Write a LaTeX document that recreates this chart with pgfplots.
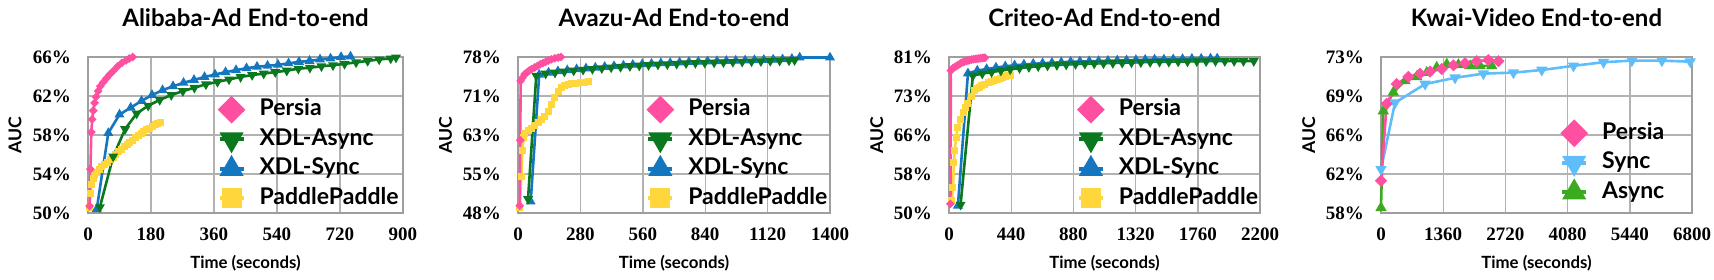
\documentclass[border=0pt]{standalone}
\usepackage{pgfplots}
\pgfplotsset{compat=1.18}
\usepackage{fontspec}
\setmainfont{Liberation Serif}
\newfontfamily\lato{Lato}
\definecolor{cpink}{RGB}{255,79,160}
\definecolor{cgreen}{RGB}{10,120,30}
\definecolor{cblue}{RGB}{20,118,190}
\definecolor{cyellow}{RGB}{255,214,60}
\definecolor{clblue}{RGB}{95,190,250}
\definecolor{clgreen}{RGB}{60,170,30}
\pgfplotsset{
 panel/.style={
  scale only axis, anchor=south west, height=78pt, xmin=0, clip=false,
  grid=major, major grid style={draw=black!30, line width=0.7pt},
  axis line style={draw=black!38, line width=0.7pt},
  tick style={draw=none},
  tick label style={font=\fontsize{9.5}{10}\selectfont\bfseries},
  yticklabel style={xshift=-5pt},
  xticklabel style={yshift=-4pt},
  xlabel={Time (seconds)}, ylabel={AUC},
  xlabel style={font=\lato\bfseries\fontsize{8.4}{10}\selectfont, at={(axis description cs:0.5,-0.32)}, anchor=center},
  ylabel style={font=\lato\bfseries\fontsize{8.8}{10}\selectfont, at={(axis description cs:-0.232,0.5)}, anchor=center},
  title style={font=\lato\bfseries\fontsize{12}{14}\selectfont, at={(axis description cs:0.5,1.253)}, anchor=center, yshift=-6pt},
  legend style={draw=none, fill=none, font=\lato\bfseries\fontsize{11.5}{14}\selectfont, cells={anchor=west}, inner sep=0pt, row sep=2pt,
    nodes={inner sep=1pt, text height=8.4pt, text depth=2.4pt}, /tikz/every odd column/.append style={column sep=6pt}},
  legend image code/.code={\draw[mark repeat=2,mark phase=2,#1] plot coordinates {(0pt,0pt) (6pt,0pt) (12pt,0pt)};},
 },
 pl/.style={line width=1.3pt, mark options={line width=0.3pt}},
 lg/.style={line width=2pt, mark options={line width=0.3pt}},
}
\begin{document}
\begin{tikzpicture}
\useasboundingbox (0,0) rectangle (857pt,139.5pt);
% ---------------- Panel 1 ----------------
\begin{axis}[panel, at={(44pt,33pt)}, width=157.5pt, xmax=900, ymin=50, ymax=66,
  xtick={0,180,360,540,720,900}, xticklabels={0,180,360,540,720,900},
  ytick={50,54,58,62,66}, yticklabels={50\%,54\%,58\%,62\%,66\%},
  title={Alibaba-Ad End-to-end},
  legend style={at={(0.41,0.747)}, anchor=north west}]
\addlegendimage{lg, cpink, mark=square*, mark options={rotate=45, fill=cpink}, mark size=3.9pt}
\addlegendentry{Persia}
\addlegendimage{lg, cgreen, mark=triangle*, mark options={rotate=180, fill=cgreen}, mark size=5pt}
\addlegendentry{XDL-Async}
\addlegendimage{lg, cblue, mark=triangle*, mark options={fill=cblue}, mark size=5pt}
\addlegendentry{XDL-Sync}
\addlegendimage{lg, cyellow, mark=square*, mark options={fill=cyellow}, mark size=4pt}
\addlegendentry{PaddlePaddle}
\addplot[pl, cyellow, mark=square*, mark size=1.1pt, mark options={fill=cyellow}, forget plot] coordinates {
(4,50.6)(7,52.0)(10,52.9)(15,53.5)(19,53.9)(25,54.2)(32,54.5)(40,54.8)(48,54.95)(56,55.2)(64,55.45)(72,55.7)(80,56.0)(88,56.3)(96,56.55)(104,56.8)(112,57.05)(120,57.25)(128,57.45)(136,57.7)(144,57.95)(152,58.15)(160,58.35)(168,58.55)(176,58.7)(184,58.9)(192,59.05)(200,59.2)(206,59.3)};
\addplot[pl, cblue, mark=triangle*, mark size=1.6pt, mark options={fill=cblue}, forget plot] coordinates {
(25,50.4)(58,58.2)(90,60.1)(122,60.8)(153,61.5)(183,62.1)(213,62.6)(243,63.0)(273,63.35)(303,63.65)(333,63.95)(363,64.2)(393,64.45)(423,64.65)(453,64.85)(483,65.0)(513,65.1)(543,65.2)(573,65.35)(603,65.5)(633,65.6)(663,65.75)(693,65.85)(723,66.0)(750,66.05)};
\addplot[pl, cgreen, mark=triangle*, mark size=1.6pt, mark options={rotate=180, fill=cgreen}, forget plot] coordinates {
(34,50.6)(72,55.8)(106,58.6)(139,60.2)(172,61.0)(205,61.6)(238,62.1)(271,62.5)(304,62.85)(337,63.2)(370,63.45)(403,63.7)(436,63.95)(469,64.15)(502,64.3)(535,64.45)(568,64.6)(601,64.8)(634,64.9)(667,65.05)(700,65.15)(733,65.3)(766,65.45)(799,65.6)(832,65.75)(865,65.85)(880,65.95)};
\addplot[pl, cpink, mark=square*, mark size=0.9pt, mark options={rotate=45, fill=cpink}, forget plot] coordinates {
(4.8,50.7)(7,54.5)(9.5,58.3)(12,59.6)(15,60.5)(19,61.3)(23,61.9)(28.6,62.5)(35,63.0)(43,63.4)(52,63.8)(62,64.2)(73,64.6)(85,65.05)(97,65.4)(109,65.65)(118,65.85)(128,66.0)};
\end{axis}
% ---------------- Panel 2 ----------------
\begin{axis}[panel, at={(259pt,33pt)}, width=156pt, xmax=1400, ymin=48, ymax=78,
  xtick={0,280,560,840,1120,1400}, xticklabels={0,280,560,840,1120,1400},
  ytick={48,55.5,63,70.5,78}, yticklabels={48\%,55\%,63\%,71\%,78\%},
  title={Avazu-Ad End-to-end},
  legend style={at={(0.41,0.747)}, anchor=north west}]
\addlegendimage{lg, cpink, mark=square*, mark options={rotate=45, fill=cpink}, mark size=3.9pt}
\addlegendentry{Persia}
\addlegendimage{lg, cgreen, mark=triangle*, mark options={rotate=180, fill=cgreen}, mark size=5pt}
\addlegendentry{XDL-Async}
\addlegendimage{lg, cblue, mark=triangle*, mark options={fill=cblue}, mark size=5pt}
\addlegendentry{XDL-Sync}
\addlegendimage{lg, cyellow, mark=square*, mark options={fill=cyellow}, mark size=4pt}
\addlegendentry{PaddlePaddle}
\addplot[pl, cyellow, mark=square*, mark size=1.1pt, mark options={fill=cyellow}, forget plot] coordinates {
(8,49.0)(15,55)(20,60)(25,62.5)(30,63.3)(45,63.8)(60,64.3)(75,64.8)(90,65.4)(105,66.0)(120,66.6)(135,67.5)(150,68.8)(165,70.2)(180,71.4)(195,72.2)(210,72.6)(225,72.8)(240,72.9)(260,73.0)(280,73.1)(300,73.1)(318,73.2)};
\addplot[pl, cblue, mark=triangle*, mark size=1.6pt, mark options={fill=cblue}, forget plot] coordinates {
(57,50.2)(95,74.6)(137,75.0)(179,75.25)(221,75.45)(263,75.65)(305,75.8)(347,75.95)(389,76.1)(431,76.25)(473,76.35)(515,76.5)(557,76.6)(599,76.7)(641,76.8)(683,76.85)(725,76.95)(767,77.05)(809,77.1)(851,77.15)(893,77.2)(935,77.25)(977,77.3)(1019,77.35)(1061,77.4)(1103,77.45)(1145,77.5)(1187,77.55)(1229,77.65)(1264,77.9)(1400,77.9)};
\addplot[pl, cgreen, mark=triangle*, mark size=1.6pt, mark options={rotate=180, fill=cgreen}, forget plot] coordinates {
(45,50.7)(82,74.4)(124,74.8)(166,75.0)(208,75.2)(250,75.4)(292,75.55)(334,75.7)(376,75.85)(418,76.0)(460,76.1)(502,76.25)(544,76.35)(586,76.45)(628,76.55)(670,76.6)(712,76.7)(754,76.8)(796,76.85)(838,76.9)(880,76.95)(922,77.0)(964,77.05)(1006,77.1)(1048,77.15)(1090,77.2)(1132,77.25)(1174,77.3)(1216,77.35)(1241,77.4)};
\addplot[pl, cpink, mark=square*, mark size=0.9pt, mark options={rotate=45, fill=cpink}, forget plot] coordinates {
(8,49.4)(10,62)(12,73.4)(20,74.0)(30,74.7)(40,75.0)(50,75.4)(62,75.7)(75,76.0)(88,76.3)(100,76.6)(112,76.85)(124,77.05)(136,77.3)(150,77.55)(165,77.75)(180,77.9)(193,78.0)};
\end{axis}
% ---------------- Panel 3 ----------------
\begin{axis}[panel, at={(474.5pt,33pt)}, width=155.5pt, xmax=2200, ymin=50, ymax=81,
  xtick={0,440,880,1320,1760,2200}, xticklabels={0,440,880,1320,1760,2200},
  ytick={50,57.75,65.5,73.25,81}, yticklabels={50\%,58\%,66\%,73\%,81\%},
  title={Criteo-Ad End-to-end},
  legend style={at={(0.41,0.747)}, anchor=north west}]
\addlegendimage{lg, cpink, mark=square*, mark options={rotate=45, fill=cpink}, mark size=3.9pt}
\addlegendentry{Persia}
\addlegendimage{lg, cgreen, mark=triangle*, mark options={rotate=180, fill=cgreen}, mark size=5pt}
\addlegendentry{XDL-Async}
\addlegendimage{lg, cblue, mark=triangle*, mark options={fill=cblue}, mark size=5pt}
\addlegendentry{XDL-Sync}
\addlegendimage{lg, cyellow, mark=square*, mark options={fill=cyellow}, mark size=4pt}
\addlegendentry{PaddlePaddle}
\addplot[pl, cyellow, mark=square*, mark size=1.1pt, mark options={fill=cyellow}, forget plot] coordinates {
(21,52.4)(28,55)(35,60)(40,62.4)(50,65)(63,67.0)(80,68.5)(100,70.0)(120,71.0)(134,71.7)(157,73.2)(180,74.3)(197,74.7)(215,75.0)(233,75.3)(252,75.6)(276,75.85)(300,76.1)(323,76.35)(346,76.6)(363,76.8)(380,77.0)(398,77.15)(416,77.3)(435,77.4)};
\addplot[pl, cblue, mark=triangle*, mark size=1.6pt, mark options={fill=cblue}, forget plot] coordinates {
(63,51.45)(134,77.75)(200,78.3)(266,78.6)(332,78.9)(398,79.15)(464,79.35)(530,79.5)(596,79.65)(662,79.75)(728,79.85)(794,79.95)(860,80.05)(926,80.1)(992,80.15)(1058,80.2)(1124,80.25)(1190,80.3)(1256,80.35)(1322,80.4)(1388,80.45)(1454,80.5)(1520,80.5)(1586,80.55)(1652,80.6)(1718,80.65)(1784,80.65)(1850,80.7)(1897,80.7)};
\addplot[pl, cgreen, mark=triangle*, mark size=1.6pt, mark options={rotate=180, fill=cgreen}, forget plot] coordinates {
(82,51.65)(169,77.3)(235,77.7)(301,78.0)(367,78.3)(433,78.55)(499,78.8)(565,79.0)(631,79.15)(697,79.3)(763,79.4)(829,79.5)(895,79.6)(961,79.65)(1027,79.7)(1093,79.75)(1159,79.8)(1225,79.85)(1291,79.9)(1357,79.95)(1423,80.0)(1489,80.05)(1555,80.05)(1621,80.1)(1687,80.1)(1753,80.15)(1819,80.15)(1885,80.2)(1951,80.2)(2017,80.2)(2083,80.2)(2156,80.2)};
\addplot[pl, cpink, mark=square*, mark size=0.9pt, mark options={rotate=45, fill=cpink}, forget plot] coordinates {
(10,51.8)(13,78.3)(25,78.7)(40,79.0)(52,79.2)(63,79.4)(75,79.6)(85,79.8)(98,79.95)(110,80.1)(122,80.2)(134,80.3)(147,80.4)(160,80.5)(172,80.55)(185,80.6)(198,80.65)(210,80.7)(222,80.75)(235,80.8)(245,80.82)(255,80.85)};
\end{axis}
% ---------------- Panel 4 ----------------
\begin{axis}[panel, at={(690.5pt,33pt)}, width=155.5pt, xmax=6800, ymin=58, ymax=73,
  xtick={0,1360,2720,4080,5440,6800}, xticklabels={0,1360,2720,4080,5440,6800},
  ytick={58,61.75,65.5,69.25,73}, yticklabels={58\%,62\%,66\%,69\%,73\%},
  title={Kwai-Video End-to-end},
  legend style={at={(0.575,0.596)}, anchor=north west}]
\addlegendimage{lg, cpink, mark=square*, mark options={rotate=45, fill=cpink}, mark size=3.9pt}
\addlegendentry{Persia}
\addlegendimage{lg, clblue, mark=triangle*, mark options={rotate=180, fill=clblue}, mark size=5pt}
\addlegendentry{Sync}
\addlegendimage{lg, clgreen, mark=triangle*, mark options={fill=clgreen}, mark size=5pt}
\addlegendentry{Async}
\addplot[pl, clblue, mark=triangle*, mark size=2pt, mark options={rotate=180, fill=clblue}, forget plot] coordinates {
(0,62.2)(306,68.6)(963,70.4)(1619,71.0)(2239,71.4)(2896,71.5)(3516,71.75)(4209,72.15)(4865,72.5)(5486,72.65)(6142,72.65)(6761,72.55)};
\addplot[pl, clgreen, mark=triangle*, mark size=2pt, mark options={fill=clgreen}, forget plot] coordinates {
(0,58.5)(50,67.8)(270,69.6)(525,70.7)(781,71.1)(1000,71.5)(1219,72.0)(1438,72.3)(1692,72.25)(1948,72.15)(2166,72.15)(2422,72.15)};
\addplot[pl, cpink, mark=square*, mark size=1.5pt, mark options={rotate=45, fill=cpink}, forget plot] coordinates {
(0,61.1)(124,68.5)(343,70.4)(598,71.1)(853,71.4)(1072,71.6)(1328,71.85)(1583,72.2)(1838,72.4)(2094,72.6)(2349,72.7)(2568,72.6)};
\end{axis}
\end{tikzpicture}
\end{document}
